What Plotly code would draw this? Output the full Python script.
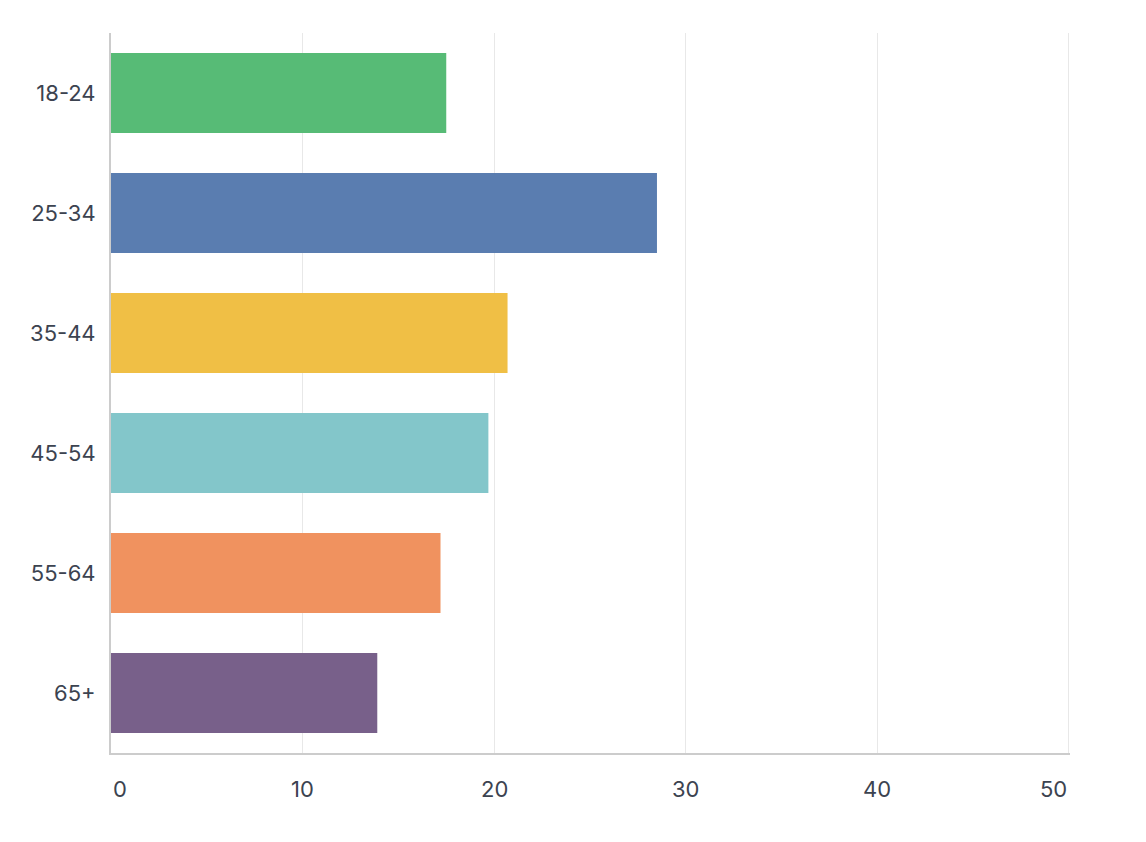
import plotly.graph_objects as go

categories = ["18-24", "25-34", "35-44", "45-54", "55-64", "65+"]
values = [17.5, 28.5, 20.7, 19.7, 17.2, 13.9]
colors = ["#57BB76", "#5A7DB0", "#F0BF45", "#83C6CA", "#F0925F", "#78608A"]
x_ticks = [0, 10, 20, 30, 40, 50]
x_tick_labels = ["0", "10", "20", "30", "40", "50"]

FONT = "Inter, Roboto, sans-serif"
TXT = "#3c4350"
FS = 22

fig = go.Figure(go.Bar(
    x=values, y=categories, orientation="h",
    marker=dict(color=colors, line=dict(width=0)),
    hoverinfo="x+y",
))

anchors = ["left"] + ["center"] * (len(x_ticks) - 2) + ["right"]
for v, t, a in zip(x_ticks, x_tick_labels, anchors):
    fig.add_annotation(x=v, xref="x", y=0, yref="paper", text=t, showarrow=False,
                       xanchor=a, yanchor="middle", yshift=-36,
                       font=dict(family=FONT, size=FS, color=TXT))

fig.update_layout(
    width=1138, height=834,
    margin=dict(l=103, r=76, t=25, b=89),
    paper_bgcolor="white", plot_bgcolor="white",
    bargap=1/3,
    showlegend=False,
    font=dict(family=FONT, size=FS, color=TXT),
    xaxis=dict(range=[0, 50.06], tickvals=x_ticks, showticklabels=False,
               showgrid=True, gridcolor="#e8e8e8", gridwidth=1,
               zeroline=False, showline=True, linecolor="#cccccc", linewidth=2,
               ticks=""),
    yaxis=dict(autorange="reversed", showgrid=False, zeroline=False,
               showline=True, linecolor="#cccccc", linewidth=2,
               ticks="outside", ticklen=9, tickcolor="rgba(0,0,0,0)",
               tickfont=dict(family=FONT, size=FS, color=TXT)),
)

fig.write_html("out.html")
